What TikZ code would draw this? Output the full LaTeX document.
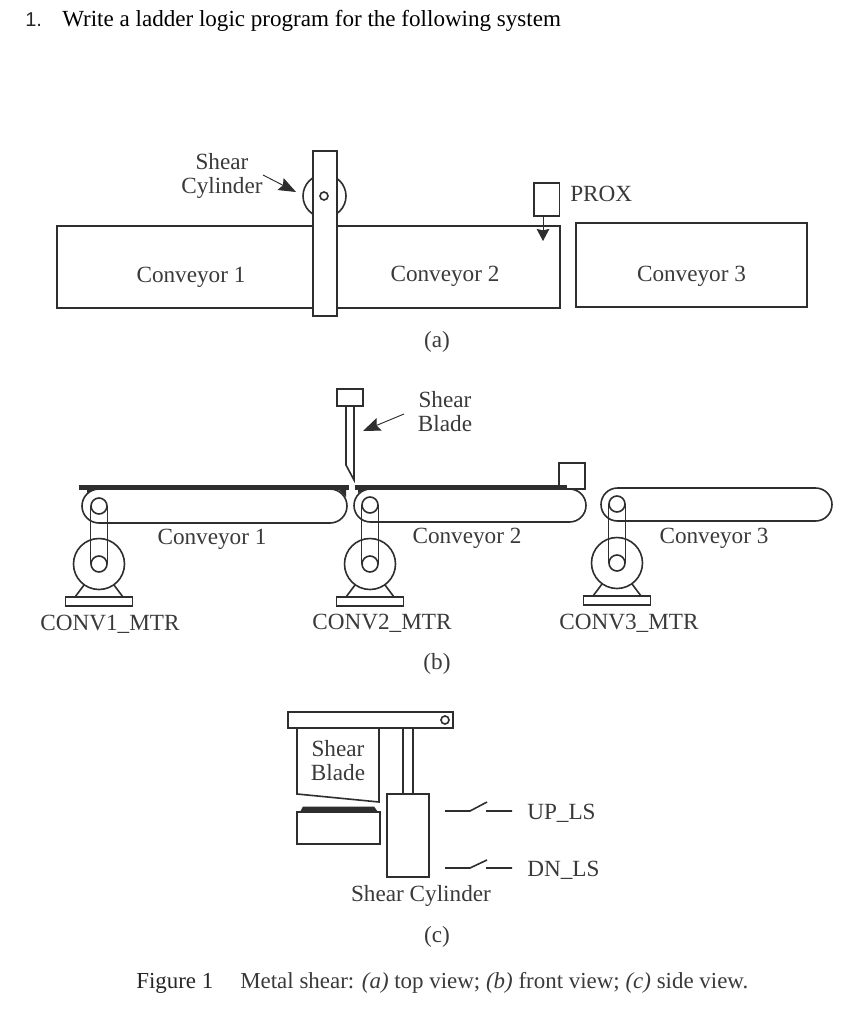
\documentclass[tikz,border=0pt]{standalone}
\usepackage{fontspec}
\setmainfont{Liberation Serif}
\newfontfamily\headfont{Liberation Sans}
\definecolor{ink}{HTML}{2E2E2E}
\definecolor{txt}{HTML}{3A3A3A}
\usetikzlibrary{arrows.meta}
\tikzset{
  ln/.style={draw=ink,line width=1.2pt},
  lbl/.style={font=\fontsize{17.4}{18}\selectfont,text=txt,inner sep=0pt,align=center,yshift=-2.2pt},
  strip/.style={draw=ink,line width=3.4pt},
  pointer/.style={draw=ink,line width=0.7pt,-{Stealth[length=13pt,width=10pt,inset=2pt]}},
  smallptr/.style={draw=ink,line width=0.7pt,-{Stealth[length=9pt,width=9.5pt,inset=1pt]}}
}
\newcommand{\motorunit}[4]{% cx, pulley y, motor y, base top
  \draw[ln] (#1,#3) circle[radius=25.5];
  \draw[ln] (#1-8.5,#2) -- (#1-8.5,#3) (#1+8.5,#2) -- (#1+8.5,#3);
  \draw[ln,fill=white] (#1,#2) circle[radius=8];
  \draw[ln,fill=white] (#1,#3) circle[radius=8];
  \draw[ln] (#1-24,#4) -- (#1-15,#4-12) (#1+24,#4) -- (#1+15,#4-12);
  \draw[ln] (#1-33.5,#4) rectangle (#1+33.5,#4+9);
}
\newcommand{\stadium}[4]{% left, right, top, bottom
  \pgfmathsetmacro{\rr}{(#4-#3)/2}
  \draw[ln] (#1+\rr,#3) -- (#2-\rr,#3) arc[start angle=90,end angle=-90,x radius=\rr,y radius=-\rr] -- (#1+\rr,#4) arc[start angle=270,end angle=90,x radius=\rr,y radius=-\rr] -- cycle;
}
\begin{document}
\begin{tikzpicture}[x=0.75pt,y=-0.75pt]
\useasboundingbox (0,0) rectangle (860,1024);
\fill[white] (0,0) rectangle (860,1024);
% heading
\node[anchor=base west,inner sep=0pt,font=\headfont\fontsize{15}{18}\selectfont,text=black!85] (headnum) at (25,27) {1.};
\node[anchor=base west,inner sep=0pt,font=\fontsize{17.3}{18}\selectfont,text=black] (head) at (62,27) {Write a ladder logic program for the following system};
% (a) top view
\draw[ln] (57,226) rectangle (560,308);
\draw[ln] (576,223) rectangle (807,307);
\draw[ln] (324.5,196) circle[radius=21.5];
\draw[ln,fill=white] (313,151) rectangle (337,316);
\draw[ln] (324,196) circle[radius=4];
\node[lbl] (shearcyl) at (222,173) {Shear\\Cylinder};
\coordinate (p1s) at (263,175);
\coordinate (p1e) at (296,192);
\draw[pointer] (p1s) -- (p1e);
\node[lbl] (conv1a) at (191,274) {Conveyor 1};
\node[lbl] (conv2a) at (445,273) {Conveyor 2};
\node[lbl] (conv3a) at (691.5,273) {Conveyor 3};
\node[lbl] (capa) at (437,339) {(a)};
\node[draw=ink,line width=1.2pt,minimum width=19pt,minimum height=24.7pt,inner sep=0pt] (proxbox) at (546.8,199.5) {};
\coordinate (proxe) at (543,241);
\draw[smallptr] (proxbox.south -| proxe) -- (proxe);
\node[lbl,anchor=west] (prox) at (570,191) {PROX};
% (b) front view
\draw[ln] (337,389) rectangle (363,406);
\draw[ln] (346,406) -- (346,465) -- (354,480) -- (354,406);
\coordinate (p2s) at (404,414);
\coordinate (p2e) at (363,431);
\draw[pointer] (p2s) -- (p2e);
\node[lbl] (sblade) at (445,409) {Shear\\Blade};
\stadium{82}{347}{489}{523}
\stadium{354}{586}{489}{522}
\stadium{601}{832}{488}{521}
\draw[strip] (79,487.5) -- (349,487.5);
\draw[strip] (355,487.5) -- (567,487.5);
\fill[ink] (338,489) -- (346,489) -- (346,497) -- cycle;
\fill[ink] (87,493) -- (87,489) -- (97,489) -- cycle;
\fill[ink] (358,493) -- (358,489) -- (368,489) -- cycle;
\draw[ln] (559,463) rectangle (585,489);
\motorunit{99}{506}{564}{597}
\motorunit{370}{505}{564}{597}
\motorunit{617}{504}{563}{596}
\node[lbl] (conv1b) at (212,536) {Conveyor 1};
\node[lbl] (conv2b) at (467,535) {Conveyor 2};
\node[lbl] (conv3b) at (714,535) {Conveyor 3};
\node[lbl] (m1) at (110,621) {CONV1\_MTR};
\node[lbl] (m2) at (382,620) {CONV2\_MTR};
\node[lbl] (m3) at (629,620) {CONV3\_MTR};
\node[lbl] (capb) at (437,661) {(b)};
% (c) side view
\draw[ln] (288,712) rectangle (453,728);
\draw[ln] (445,720) circle[radius=4];
\draw[ln] (297,728) -- (297,794) -- (379,802) -- (379,728);
\draw[ln] (403,728) -- (403,794) (413,728) -- (413,794);
\draw[ln] (387,794) rectangle (429,877);
\draw[ln] (297,812) rectangle (380,844);
\fill[ink] (300,812) -- (303,806.5) -- (374,806.5) -- (378,812) -- cycle;
\node[lbl] (sb2) at (338,758) {Shear\\Blade};
\coordinate (u1) at (445,811); \coordinate (u2) at (470,811); \coordinate (u3) at (487,802);
\coordinate (u4) at (486,811); \coordinate (u5) at (512,811);
\draw[ln] (u1) -- (u2) -- (u3) (u4) -- (u5);
\coordinate (d1) at (445,868); \coordinate (d2) at (470,868); \coordinate (d3) at (487,860);
\coordinate (d4) at (486,868); \coordinate (d5) at (512,868);
\draw[ln] (d1) -- (d2) -- (d3) (d4) -- (d5);
\node[lbl,anchor=west] (up) at (527,810) {UP\_LS};
\node[lbl,anchor=west] (dn) at (527,867) {DN\_LS};
\node[lbl] (sc) at (421,893) {Shear Cylinder};
\node[lbl] (capc) at (437,934) {(c)};
\node[anchor=base west,inner sep=0pt,font=\fontsize{17.2}{18}\selectfont,text=black!85] (cap) at (136,988) {Figure 1};
\node[anchor=base west,inner sep=0pt,font=\fontsize{17.2}{18}\selectfont,text=txt] (cap2) at (240,988) {Metal shear: \textit{(a)} top view; \textit{(b)} front view; \textit{(c)} side view.};
\end{tikzpicture}
\end{document}
